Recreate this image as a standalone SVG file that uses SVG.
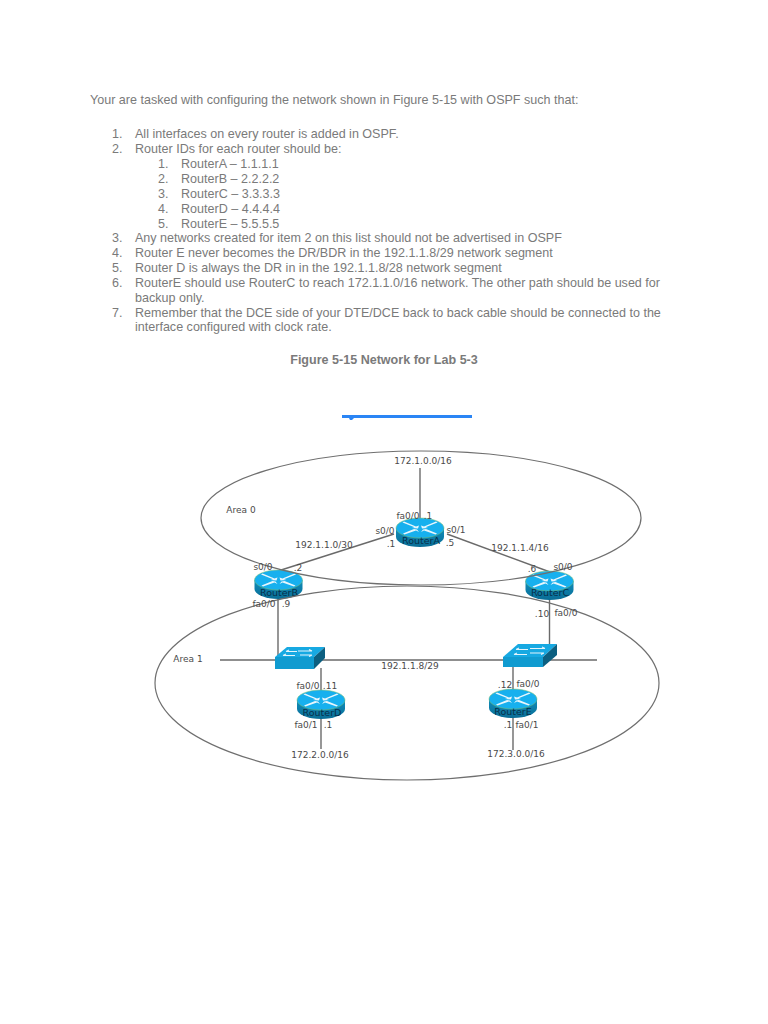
<svg xmlns="http://www.w3.org/2000/svg" width="768" height="1024" viewBox="0 0 768 1024">
<style>
.doc{font-family:"Liberation Sans",Arial,sans-serif;font-size:12.55px;fill:#7a7a7a}
.b{font-weight:bold}
.lab{font-family:"DejaVu Sans",sans-serif;font-size:9px;fill:#4a4a4a;text-anchor:middle}
.rn{font-family:"DejaVu Sans",sans-serif;font-size:9.5px;fill:#07304a;text-anchor:middle}
.ln{stroke:#6a6a6a;stroke-width:1.4;fill:none}
.area{stroke:#6f6f6f;stroke-width:1.2;fill:none}
.sw{stroke:#e4f4fb;stroke-width:1.1;fill:none}
</style>
<defs>
<linearGradient id="side" x1="0" y1="0" x2="0" y2="1"><stop offset="0" stop-color="#0f8dbb"/><stop offset="1" stop-color="#0a6d95"/></linearGradient>
<g id="router">
<path d="M-24,10V19A24,10 0 0 0 24,19V10Z" fill="url(#side)"/>
<ellipse cx="0" cy="10" rx="24" ry="10" fill="#17b0ee" stroke="#7fbf6a" stroke-width=".5"/>
<path d="M-16,3.500L-4,8.500L-1,7.500L-2,10.500L-8,10L-5.500,9.200L-17.500,4.500ZM16,3.500L4,8.500L1,7.500L2,10.500L8,10L5.500,9.200L17.500,4.500ZM-3,11.500L-6,11L-17,15.500L-15.500,16.500L-4,12.500L-1,14ZM3,11.500L6,11L17,15.500L15.500,16.500L4,12.500L1,14Z" fill="#e8f6fc"/>
</g>
</defs>
<rect width="768" height="1024" fill="#fff"/>
<g id="document-text" class="doc">
<text x="90" y="104">Your are tasked with configuring the network shown in Figure 5-15 with OSPF such that:</text>
<text x="112" y="138">1.</text><text x="135" y="138">All interfaces on every router is added in OSPF.</text>
<text x="112" y="153">2.</text><text x="135" y="153">Router IDs for each router should be:</text>
<text x="158" y="168">1.</text><text x="181" y="168">RouterA – 1.1.1.1</text>
<text x="158" y="183">2.</text><text x="181" y="183">RouterB – 2.2.2.2</text>
<text x="158" y="198">3.</text><text x="181" y="198">RouterC – 3.3.3.3</text>
<text x="158" y="213">4.</text><text x="181" y="213">RouterD – 4.4.4.4</text>
<text x="158" y="228">5.</text><text x="181" y="228">RouterE – 5.5.5.5</text>
<text x="112" y="242">3.</text><text x="135" y="242">Any networks created for item 2 on this list should not be advertised in OSPF</text>
<text x="112" y="257">4.</text><text x="135" y="257">Router E never becomes the DR/BDR in the 192.1.1.8/29 network segment</text>
<text x="112" y="272">5.</text><text x="135" y="272">Router D is always the DR in in the 192.1.1.8/28 network segment</text>
<text x="112" y="287">6.</text><text x="135" y="287">RouterE should use RouterC to reach 172.1.1.0/16 network. The other path should be used for</text>
<text x="135" y="302">backup only.</text>
<text x="112" y="317">7.</text><text x="135" y="317">Remember that the DCE side of your DTE/DCE back to back cable should be connected to the</text>
<text x="135" y="331">interface configured with clock rate.</text>
<text class="b" x="384" y="364" text-anchor="middle">Figure 5-15 Network for Lab 5-3</text>
</g>
<path id="blue-bar" d="M342,415H472V418H354L352,420H350L349,418H342Z" fill="#2a85f5"/>
<g id="connectors">
<path class="ln" d="M420,468V520"/>
<path class="ln" d="M394,534L278,571"/>
<path class="ln" d="M447,534L550,572"/>
<path class="ln" d="M278,598V658"/>
<path class="ln" d="M549.500,598V646"/>
<path class="ln" d="M220,660H597"/>
<path class="ln" d="M321,668V691"/>
<path class="ln" d="M321,717V749"/>
<path class="ln" d="M513,666V690"/>
<path class="ln" d="M513,716V750"/>
</g>
<g id="SwitchB">
<path d="M275,657L287,647H325L314,657Z" fill="#17a9e2"/>
<path d="M314,657L325,647V658L314,669Z" fill="#0c5f80"/>
<rect x="275" y="657" width="39" height="12" fill="#109bd0"/>
<path class="sw" d="M283,655.500H295M283,655.500L286,654M298,651H312M312,651L309,649.500M286,651.500H297M286,651.500L289,650M300,655H312M312,655L309,656.500"/>
</g>
<g id="SwitchE">
<path d="M503,657L518,644H557L543,657Z" fill="#17a9e2"/>
<path d="M543,657L557,644V655L543,667Z" fill="#0c5f80"/>
<rect x="503" y="657" width="40" height="10" fill="#109bd0"/>
<path class="sw" d="M514,654.500H527M514,654.500L517,653M530,648.500H545M545,648.500L542,647M516,649.500H528M516,649.500L519,648M530,653H544M544,653L541,654.500"/>
</g>
<g id="RouterA"><use href="#router" x="420" y="518"/><text class="rn" x="421" y="544">RouterA</text></g>
<g id="RouterB"><use href="#router" x="278.500" y="570"/><text class="rn" x="279" y="596">RouterB</text></g>
<g id="RouterC"><use href="#router" x="549.500" y="571"/><text class="rn" x="550" y="596">RouterC</text></g>
<g id="RouterD"><use href="#router" x="321" y="690"/><text class="rn" x="322" y="716">RouterD</text></g>
<g id="RouterE"><use href="#router" x="513" y="689"/><text class="rn" x="513" y="715">RouterE</text></g>
<g id="Area0"><ellipse class="area" cx="421" cy="518" rx="220" ry="67"/><text class="lab" x="241" y="513">Area 0</text></g>
<g id="Area1"><ellipse class="area" cx="407" cy="683" rx="252" ry="97"/><text class="lab" x="188" y="662">Area 1</text></g>
<g id="labels">
<text class="lab" x="423" y="464">172.1.0.0/16</text>
<text class="lab" x="408" y="519">fa0/0</text><text class="lab" x="428" y="519">.1</text>
<text class="lab" x="385" y="534">s0/0</text><text class="lab" x="456" y="533">s0/1</text>
<text class="lab" x="391" y="547">.1</text><text class="lab" x="450" y="546">.5</text>
<text class="lab" x="324" y="548">192.1.1.0/30</text><text class="lab" x="520" y="551">192.1.1.4/16</text>
<text class="lab" x="263" y="570">s0/0</text><text class="lab" x="298" y="571">.2</text>
<text class="lab" x="532" y="572">.6</text><text class="lab" x="563" y="570">s0/0</text>
<text class="lab" x="264" y="607">fa0/0</text><text class="lab" x="286" y="607">.9</text>
<text class="lab" x="542" y="617">.10</text><text class="lab" x="566" y="616">fa0/0</text>
<text class="lab" x="410" y="669">192.1.1.8/29</text>
<text class="lab" x="308" y="689">fa0/0</text><text class="lab" x="330" y="689">.11</text>
<text class="lab" x="505" y="688">.12</text><text class="lab" x="528" y="687">fa0/0</text>
<text class="lab" x="306" y="728">fa0/1</text><text class="lab" x="328" y="728">.1</text>
<text class="lab" x="508" y="728">.1</text><text class="lab" x="527" y="728">fa0/1</text>
<text class="lab" x="320" y="758">172.2.0.0/16</text><text class="lab" x="516" y="757">172.3.0.0/16</text>
</g>
</svg>
